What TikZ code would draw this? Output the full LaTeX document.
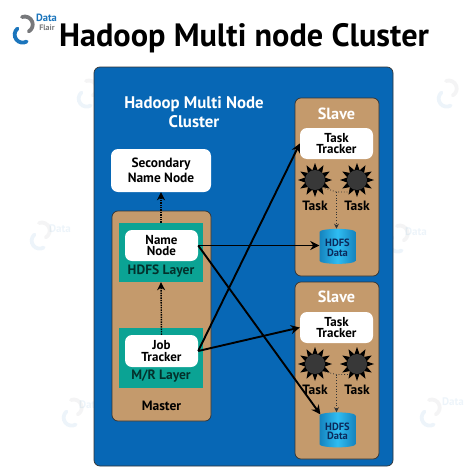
\documentclass[tikz,border=0pt]{standalone}
\usepackage{fontspec}
\setmainfont{PT Sans}
\usetikzlibrary{arrows.meta,shapes.geometric}
\definecolor{panelblue}{HTML}{0767B5}
\definecolor{tanbox}{HTML}{C49A6C}
\definecolor{layerteal}{HTML}{0BA394}
\definecolor{logoblue}{HTML}{1B75BC}
\definecolor{logogrey}{HTML}{77787B}
\definecolor{storeedge}{HTML}{1583BE}
\definecolor{storemid}{HTML}{2FBDF2}
\definecolor{storetext}{HTML}{0B2A5C}

\begin{document}
\begin{tikzpicture}[
  x=1pt,y=-1pt,
  >={Stealth[length=9pt,width=9pt]},
  panel/.style ={draw=black!80,line width=0.7pt,fill=tanbox,rounded corners=6pt,
                 minimum width=#1,inner sep=0pt},
  layer/.style ={fill=layerteal,minimum width=84pt,inner sep=0pt},
  white box/.style={fill=white,rounded corners=7pt,minimum width=73pt,minimum height=31pt,
                 inner sep=0pt,align=center,font=\fontsize{13}{11.5}\selectfont\bfseries},
  lbl/.style   ={font=\fontsize{13.5}{13}\selectfont\bfseries,inner sep=0pt},
  burst/.style ={star,star points=12,star point ratio=1.7,fill=black,draw=none,
                 minimum size=34pt,inner sep=0pt},
  core/.style  ={circle,fill=black!78,minimum size=20pt,inner sep=0pt},
  store/.style ={cylinder,shape border rotate=90,aspect=0.25,minimum width=36pt,minimum height=35pt,
                 inner sep=0pt,left color=storeedge,right color=storeedge,
                 middle color=storemid,align=center,
                 font=\fontsize{10.5}{9.5}\selectfont\bfseries,text=storetext},
  link/.style  ={->,line width=1.9pt},
  dots/.style  ={->,densely dotted,line width=1.4pt,>={Stealth[length=8pt,width=8pt]}},
  thin dots/.style={dotted,line width=0.8pt,black!80},
  logo/.pic={
    \draw[logoblue,line width=3.8pt,line cap=round] (-5.5,4.5) arc[start angle=130,end angle=300,radius=8pt];
    \draw[logogrey,line width=3.8pt,line cap=round] (-1,-7) arc[start angle=110,end angle=-60,radius=8pt];
  },
]
\useasboundingbox (0,0) rectangle (474,474);

%% =====================================================
%%  Title and logo
%% =====================================================
\node[font=\fontsize{32.3}{32}\selectfont\bfseries,inner sep=0pt] (title) at (244,38) {Hadoop Multi node Cluster};
\pic at (23,24) {logo};
\node[font=\fontsize{10.5}{10}\selectfont\bfseries,text=logoblue,inner sep=0pt] (logodata) at (46.5,18) {Data};
\node[font=\fontsize{8}{8}\selectfont\bfseries,text=logogrey,inner sep=0pt] (logoflair) at (47,27.5) {Flair};

%% =====================================================
%%  Faint marks behind the diagram
%% =====================================================
\begin{scope}[opacity=0.08]
  \pic at (87,88) {logo};
  \pic at (40,230) {logo};
  \pic at (447,88) {logo};
  \pic at (398,233) {logo};
  \pic at (430,407) {logo};
  \pic at (72,407) {logo};
  \node[font=\fontsize{11}{11}\selectfont\bfseries,text=logoblue,inner sep=0pt] (markone) at (60,229) {Data};
  \node[font=\fontsize{11}{11}\selectfont\bfseries,text=logoblue,inner sep=0pt] (marktwo) at (416,232) {Data};
  \node[font=\fontsize{11}{11}\selectfont\bfseries,text=logoblue,inner sep=0pt] (markthree) at (453,402) {Data};
  \node[font=\fontsize{11}{11}\selectfont\bfseries,text=logoblue,inner sep=0pt] (markfour) at (90,405) {Data};
\end{scope}

%% =====================================================
%%  Outer cluster panel
%% =====================================================
\node[draw=black!80,line width=0.7pt,fill=panelblue,rounded corners=6pt,minimum width=299pt,
      minimum height=399pt,inner sep=0pt] (cluster) at (243.5,266.5) {};
\node[align=center,text=white,font=\fontsize{16.8}{19}\selectfont\bfseries,inner sep=0pt] (clustertitle) at (194,112.5)
      {Hadoop Multi Node\\Cluster};

%% =====================================================
%%  Secondary name node
%% =====================================================
\node[white box,minimum width=100pt,minimum height=43pt,font=\fontsize{13.4}{15}\selectfont\bfseries] (secondary) at (161,170.5)
      {Secondary\\Name Node};

%% =====================================================
%%  Master
%% =====================================================
\node[panel=99pt,minimum height=210pt] (master) at (161.5,316) {};
\node[layer,minimum height=59pt] (hdfs) at (161,252.5) {};
\node[layer,minimum height=60pt] (mr)   at (161,358) {};
\node[white box] (name) at (161.5,245.5) {Name\\Node};
\node[white box,minimum height=32pt] (job)  at (161.5,351) {Job\\Tracker};
\node[lbl,text=black!70!layerteal] (hdfslabel) at (161,271) {HDFS Layer};
\node[lbl,text=black!70!layerteal] (mrlabel)   at (161,376.5) {M/R Layer};
\node[lbl] (masterlabel) at (161.5,406) {Master};

\draw[dots] (hdfs.north) -- (secondary.south);
\draw[dots] (job.north) -- (hdfs.south);

%% =====================================================
%%  Slave 1 (top)
%% =====================================================
\node[panel=84pt,minimum height=178pt] (slavea) at (337,187) {};
\node[lbl,text=white,font=\fontsize{16.2}{16}\selectfont\bfseries] (slavealabel) at (336.5,114) {Slave};
\node[white box] (trackera) at (336.5,143.5) {Task\\Tracker};
\node[burst] (burstaa) at (315,180) {};
\node[burst] (burstab) at (357,180) {};
\node[core] (coreaa) at (burstaa) {};
\node[core] (coreab) at (burstab) {};
\node[lbl] (taskaa) at (315,206) {Task};
\node[lbl] (taskab) at (357,206) {Task};
\node[store] (dataa) at (337.5,248) {HDFS\\Data};
\coordinate (joina) at (336.5,192);

\draw[thin dots] (coreaa.south east) -- (joina) -- (joina-|coreab.south west);
\draw[thin dots,->,>={Stealth[length=5pt,width=5pt]},dotted] (joina) -- (joina|-dataa.north);

%% =====================================================
%%  Slave 2 (bottom)
%% =====================================================
\node[panel=84pt,minimum height=177pt] (slaveb) at (337,370.5) {};
\node[lbl,text=white,font=\fontsize{16.2}{16}\selectfont\bfseries] (slaveblabel) at (336.5,297) {Slave};
\node[white box] (trackerb) at (336.5,327.5) {Task\\Tracker};
\node[burst] (burstba) at (315,364) {};
\node[burst] (burstbb) at (357,364) {};
\node[core] (coreba) at (burstba) {};
\node[core] (corebb) at (burstbb) {};
\node[lbl] (taskba) at (315,390) {Task};
\node[lbl] (taskbb) at (357,390) {Task};
\node[store] (datab) at (337.5,431.5) {HDFS\\Data};
\coordinate (joinb) at (336.5,374.5);

\draw[thin dots] (coreba.south east) -- (joinb) -- (joinb-|corebb.south west);
\draw[thin dots,->,>={Stealth[length=5pt,width=5pt]},dotted] (joinb) -- (joinb|-datab.north);

%% =====================================================
%%  Master to slave links
%% =====================================================
\draw[link] (name.east) -- (name.east-|dataa.west);
\draw[link] (name.east) -- (datab.north west);
\draw[link] (job.east) -- (trackera.west);
\draw[link] (job.east) -- (trackerb.west);

\end{tikzpicture}
\end{document}
